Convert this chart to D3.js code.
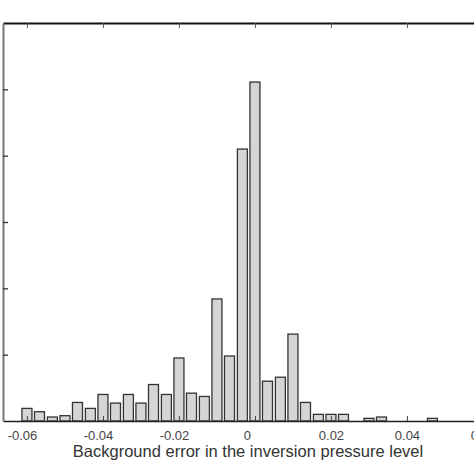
<!DOCTYPE html>
<html>
<head>
<meta charset="utf-8">
<script src="https://cdn.jsdelivr.net/npm/d3@7"></script>
<style>
  body { margin: 0; background: #fff; }
  svg { display: block; }
</style>
</head>
<body>
<script>
// histogram bins (centre of each bin) and counts
var binCentres = [
  -0.0600, -0.0567, -0.0533, -0.0500, -0.0467, -0.0433, -0.0400, -0.0367,
  -0.0333, -0.0300, -0.0267, -0.0233, -0.0200, -0.0167, -0.0133, -0.0100,
  -0.0067, -0.0033, 0.0000, 0.0033, 0.0067, 0.0100, 0.0133, 0.0167,
  0.0200, 0.0233, 0.0267, 0.0300, 0.0333, 0.0367, 0.0400, 0.0433, 0.0467
];
var counts = [
  19, 14, 6, 8, 28, 19, 40, 27,
  40, 27, 55, 40, 95, 42, 37, 184,
  98, 410, 511, 60, 66, 131, 28, 10,
  10, 10, 0, 4, 6, 0, 0, 0, 4
];
var xTicks = [-0.06, -0.04, -0.02, 0, 0.02, 0.04, 0.06];
var yTicks = [100, 200, 300, 400, 500];
var binWidth = 1 / 300;

var W = 474, H = 474;
// note: "top" is taken by window.top, so use other names
var plotLeft = 3, plotTop = 23, plotBottom = 421;

var x = d3.scaleLinear().domain([-0.0663, 0.0663]).range([plotLeft, plotLeft + 0.1326 * 3800]);
var y = d3.scaleLinear().domain([0, 600]).range([plotBottom, plotTop]);

var svg = d3.select("body").append("svg")
  .attr("width", W)
  .attr("height", H);

var barW = (x(binWidth) - x(0)) * 0.79;

// bars
svg.append("g")
  .selectAll("rect")
  .data(binCentres.map((c, i) => ({c: c, n: counts[i]})).filter(d => d.n > 0))
  .join("rect")
    .attr("x", d => x(d.c) - barW / 2)
    .attr("y", d => y(d.n))
    .attr("width", barW)
    .attr("height", d => y(0) - y(d.n))
    .attr("fill", "#d5d5d5")
    .attr("stroke", "#333")
    .attr("stroke-width", 1.3);

// bottom axis, ticks pointing inward
var xAxis = svg.append("g")
  .attr("transform", "translate(0," + plotBottom + ")")
  .call(d3.axisBottom(x).tickValues(xTicks).tickSizeInner(-5).tickSizeOuter(0)
    .tickPadding(10).tickFormat(d => d === 0 ? "0" : d3.format(".2f")(d).replace("−", "-")));
xAxis.select(".domain").attr("stroke", "#222").attr("stroke-width", 1.6);
xAxis.selectAll(".tick line").attr("stroke", "#444");
// the original labels sit a little left of their ticks on the negative side
xAxis.selectAll(".tick text")
  .attr("dx", d => d === 0 ? -8 : (d < 0 ? -5 : 0))
  .attr("font-family", "Liberation Sans, Arial, sans-serif")
  .attr("font-size", 13)
  .attr("fill", "#444");

// top axis
var xTop = svg.append("g")
  .attr("transform", "translate(0," + plotTop + ")")
  .call(d3.axisTop(x).tickValues(xTicks).tickSizeInner(-5).tickSizeOuter(0).tickFormat(""));
xTop.select(".domain").attr("stroke", "#111").attr("stroke-width", 2);
xTop.selectAll(".tick line").attr("stroke", "#555");

// left axis (labels fall outside the cropped picture)
var yAxis = svg.append("g")
  .attr("transform", "translate(" + plotLeft + ",0)")
  .call(d3.axisLeft(y).tickValues(yTicks).tickSizeInner(-5).tickSizeOuter(0).tickFormat(""));
yAxis.select(".domain").attr("stroke", "#777").attr("stroke-width", 2);
yAxis.selectAll(".tick line").attr("stroke", "#333").attr("stroke-width", 1.3);

// axis title
svg.append("text")
  .attr("x", 248)
  .attr("y", 457)
  .attr("text-anchor", "middle")
  .attr("font-family", "Liberation Sans, Arial, sans-serif")
  .attr("font-size", 16.5)
  .attr("fill", "#333")
  .text("Background error in the inversion pressure level");
</script>
</body>
</html>
